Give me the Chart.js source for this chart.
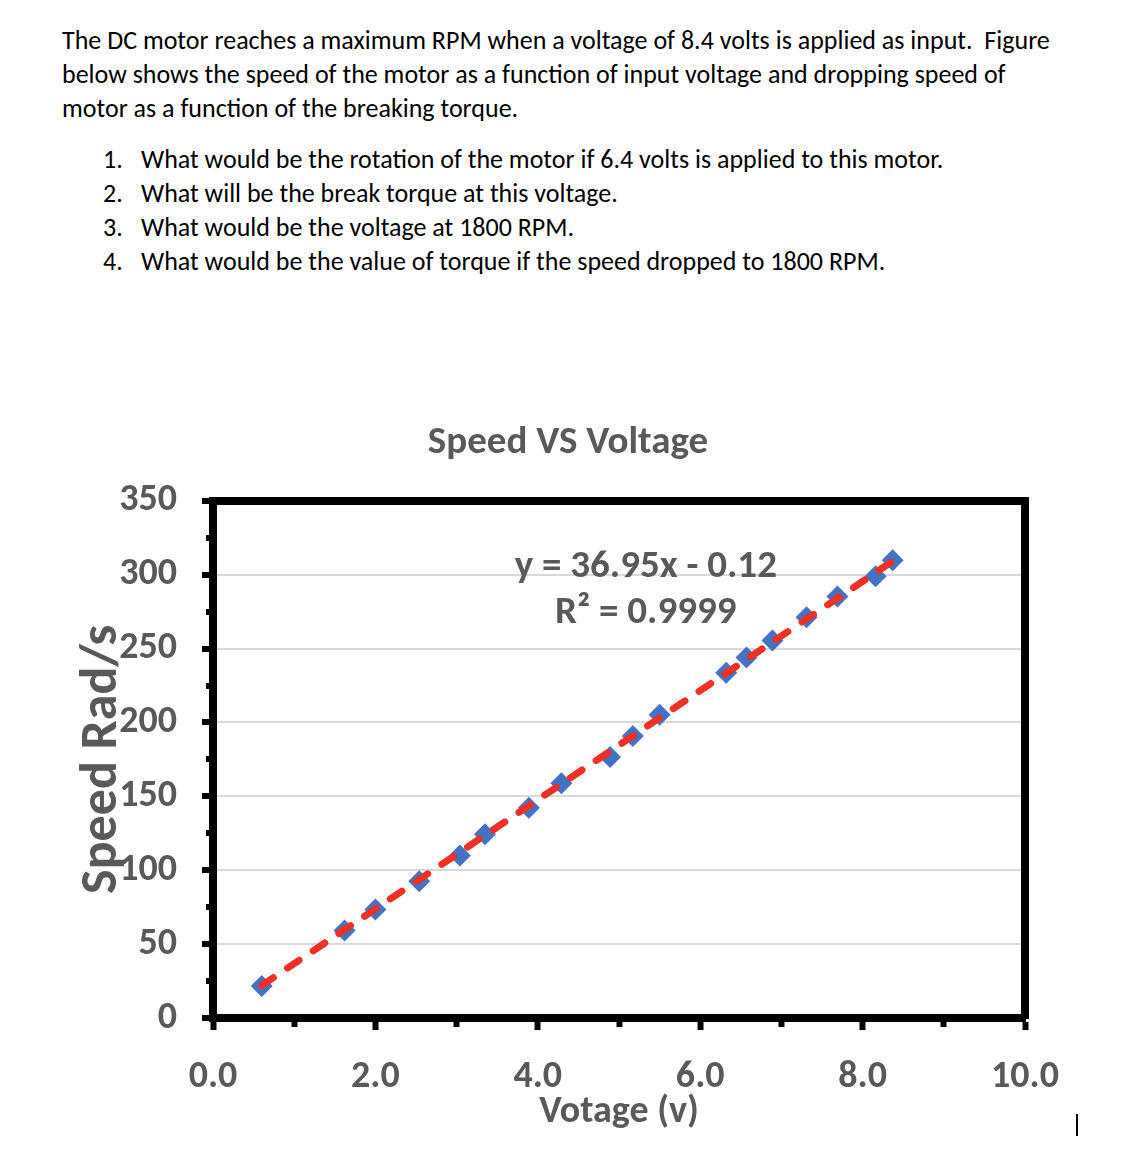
<!DOCTYPE html>
<html>
<head>
<meta charset="utf-8">
<title>Speed VS Voltage</title>
<script src="https://cdn.jsdelivr.net/npm/chart.js@4.4.1/dist/chart.umd.min.js"></script>
<style>
  html, body { margin: 0; padding: 0; background: #fff; }
  body { width: 1144px; height: 1160px; position: relative; overflow: hidden; font-family: Carlito, Calibri, Lato, sans-serif; color: #000; }
  .intro { position: absolute; left: 62px; top: 23px; margin: 0; font-size: 26px; line-height: 34px; white-space: nowrap; }
  .questions { position: absolute; left: 103px; top: 142px; margin: 0; padding: 0; list-style: none; font-size: 26px; line-height: 34px; white-space: nowrap; }
  .questions .n { display: inline-block; width: 38px; }
  #wrap { position: absolute; left: 0; top: 400px; width: 1136px; height: 760px; }
  .caret { position: absolute; left: 1076px; top: 1114px; width: 2px; height: 22px; background: #000; }
</style>
</head>
<body>
<p class="intro">The DC motor reaches a maximum RPM when a voltage of 8.4 volts is applied as input.&nbsp; Figure<br>below shows the speed of the motor as a function of input voltage and dropping speed of<br>motor as a function of the breaking torque.</p>
<ul class="questions">
  <li><span class="n">1.</span>What would be the rotation of the motor if 6.4 volts is applied to this motor.</li>
  <li><span class="n">2.</span>What will be the break torque at this voltage.</li>
  <li><span class="n">3.</span>What would be the voltage at 1800 RPM.</li>
  <li><span class="n">4.</span>What would be the value of torque if the speed dropped to 1800 RPM.</li>
</ul>
<div id="wrap"><canvas id="chart-speed"></canvas></div>
<div class="caret"></div>

<script>
// ---- DATA ----
const voltage = [0.6, 1.62, 2.0, 2.54, 3.04, 3.35, 3.89, 4.29, 4.89, 5.17, 5.5, 6.32, 6.57, 6.89, 7.31, 7.69, 8.16, 8.37];
const speed   = [21.6, 59.2, 73.4, 92.6, 110, 124.3, 142.3, 158.9, 176.6, 190.9, 205.2, 233.7, 243.9, 255.4, 271.2, 285.3, 298.9, 309.8];

const TREND_SLOPE     = 36.95;
const TREND_INTERCEPT = -0.12;
const TREND_TEXT      = 'y = 36.95x - 0.12';
const R2_TEXT         = 'R\u00B2 = 0.9999';

const X_MIN = 0, X_MAX = 10, X_STEP = 1, X_LABEL_EVERY = 2;
const Y_MIN = 0, Y_MAX = 350, Y_STEP = 25, Y_LABEL_EVERY = 50;

// ---- STYLE ----
const FONT   = 'Carlito, Calibri, Lato, sans-serif';
const GREY   = '#595959';
const BLUE   = '#4472C4';
const RED    = '#EE3124';
const GRIDC  = '#D9D9D9';
const CLEAR  = 'rgba(0,0,0,0)';

// trendline label, placed in data space like Excel does
const trendLabel = {
  id: 'trendLabel',
  afterDatasetsDraw(chart) {
    const { ctx, scales: { x, y } } = chart;
    const cx = x.getPixelForValue(5.33);
    ctx.save();
    ctx.font = `bold 39px ${FONT}`;
    ctx.fillStyle = GREY;
    ctx.textAlign = 'center';
    ctx.textBaseline = 'middle';
    ctx.fillText(TREND_TEXT, cx, y.getPixelForValue(305));
    ctx.fillText(R2_TEXT, cx, y.getPixelForValue(274));
    ctx.restore();
  }
};

const tickVal = ctx => (ctx.tick ? ctx.tick.value : NaN);

const trendX = [Math.min(...voltage), Math.max(...voltage)];

new Chart(document.getElementById('chart-speed'), {
  type: 'scatter',
  data: {
    datasets: [
      {
        label: 'Linear trend',
        type: 'line',
        data: trendX.map(v => ({ x: v, y: TREND_SLOPE * v + TREND_INTERCEPT })),
        borderColor: RED,
        borderWidth: 7,
        borderDash: [14, 17],
        borderCapStyle: 'round',
        pointRadius: 0,
        fill: false,
        xAxisID: 'x', yAxisID: 'y',
      },
      {
        label: 'Speed',
        data: voltage.map((v, i) => ({ x: v, y: speed[i] })),
        pointStyle: 'rectRot',
        pointRadius: 11,
        pointBackgroundColor: BLUE,
        pointBorderColor: BLUE,
        pointBorderWidth: 0,
        xAxisID: 'x', yAxisID: 'y',
      }
    ]
  },
  options: {
    responsive: true,
    maintainAspectRatio: false,
    animation: false,
    layout: { padding: 0 },
    plugins: {
      legend: { display: false },
      tooltip: { enabled: false },
      title: {
        display: true,
        text: 'Speed VS Voltage',
        color: GREY,
        font: { family: FONT, size: 39, weight: 'bold' },
        padding: { top: 19.5, bottom: 33.5 },
      }
    },
    scales: {
      x: {
        type: 'linear', position: 'bottom',
        min: X_MIN, max: X_MAX,
        ticks: {
          stepSize: X_STEP, autoSkip: false, maxRotation: 0, padding: 25,
          color: GREY, font: { family: FONT, size: 38, weight: 'bold' },
          callback: v => (v % X_LABEL_EVERY === 0 ? v.toFixed(1) : ''),
        },
        grid: {
          drawOnChartArea: false,
          tickLength: 12, tickWidth: 6, tickColor: '#000',
          tickBorderDash: ctx => (tickVal(ctx) % X_LABEL_EVERY === 0 ? [] : [5, 100]),
        },
        border: { color: '#000', width: 8 },
        title: {
          display: true, text: 'Votage (v)', color: GREY,
          font: { family: FONT, size: 38, weight: 'bold' },
          padding: { top: 0, bottom: 24.5 },
        },
        afterFit: s => { s.height = 142; },
      },
      x2: {
        type: 'linear', position: 'top', min: X_MIN, max: X_MAX,
        ticks: { display: false },
        grid: { drawOnChartArea: false, drawTicks: false },
        border: { color: '#000', width: 8 },
        afterFit: s => { s.height = 1; },
      },
      y: {
        type: 'linear', position: 'left',
        min: Y_MIN, max: Y_MAX,
        ticks: {
          stepSize: Y_STEP, autoSkip: false, padding: 25,
          color: GREY, font: { family: FONT, size: 38, weight: 'bold' },
          callback: v => (v % Y_LABEL_EVERY === 0 ? v : ''),
        },
        grid: {
          color: ctx => {
            const v = tickVal(ctx);
            return v % Y_LABEL_EVERY === 0 && v > Y_MIN && v < Y_MAX ? GRIDC : CLEAR;
          },
          lineWidth: 2,
          tickLength: 11, tickWidth: 6, tickColor: '#000',
          tickBorderDash: ctx => (tickVal(ctx) % Y_LABEL_EVERY === 0 ? [] : [0, 4, 100]),
        },
        border: { color: '#000', width: 8 },
        title: {
          display: true, text: 'Speed Rad/s', color: GREY,
          font: { family: FONT, size: 52, weight: 'bold' },
          padding: { top: 72, bottom: 0 },
        },
        afterFit: s => { s.width = 213; },
      },
      y2: {
        type: 'linear', position: 'right', min: Y_MIN, max: Y_MAX,
        ticks: { display: false },
        grid: { drawOnChartArea: false, drawTicks: false },
        border: { color: '#000', width: 8 },
        afterFit: s => { s.width = 111; },
      }
    }
  },
  plugins: [trendLabel]
});
</script>
</body>
</html>
